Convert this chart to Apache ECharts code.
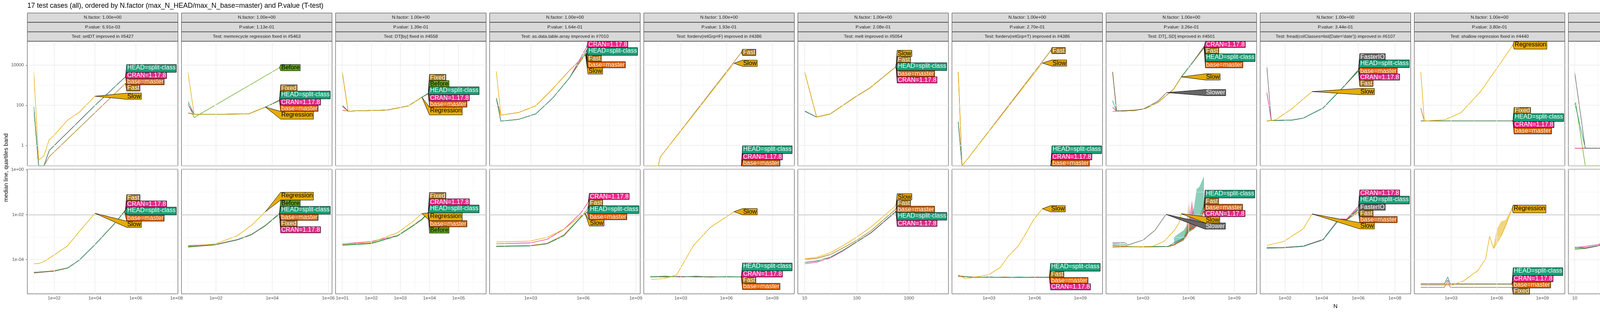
<!DOCTYPE html>
<html>
<head>
<meta charset="utf-8">
<script src="https://cdn.jsdelivr.net/npm/echarts@6/dist/echarts.min.js"></script>
<style>
  html, body { margin: 0; padding: 0; background: #fff; }
  #chart { width: 6800px; height: 800px; }
</style>
</head>
<body>
<div id="chart"></div>
<script>
// All values are log10: points are [log10(N), log10(median)].
// ZERO marks a median of 0 (log gives -Inf, drawn on the panel edge like ggplot).
const ZERO = -Infinity;

const titleText = '17 test cases (all), ordered by N.factor (max_N_HEAD/max_N_base=master) and P.value (T-test)';
const testNames = [
  'setDT improved in #5427', 'memrecycle regression fixed in #5463', 'DT[by] fixed in #4558',
  'as.data.table.array improved in #7010', 'forderv(retGrp=F) improved in #4386', 'melt improved in #5054',
  'forderv(retGrp=T) improved in #4386', 'DT[,.SD] improved in #4501',
  "fread(colClasses=list(Date='date')) improved in #6107", 'shallow regression fixed in #4440',
  'fwrite refactored in #6393', 'fread disk overhead improved in #6925', 'transform improved in #5493',
  "fread(select=list(Date='date')) improved in #6107", 'isoweek improved in #7144',
  "fread(colClasses='Date') improved in #6107", 'DT[by,verbose=TRUE] improved in #6296'
];
const pValues = ['6.91e-03', '1.13e-01', '1.39e-01', '1.64e-01', '1.93e-01', '2.08e-01', '2.70e-01', '3.26e-01',
  '3.44e-01', '3.80e-01', '4.43e-01', '6.96e-01', '7.23e-01', '7.84e-01', '8.06e-01', '9.75e-01', '9.79e-01'];
const nFactors = Array(17).fill('1.00e+00');
const unitNames = ['kilobytes', 'seconds'];

// x axis (log10 N) range and breaks per panel
const xRanges = [[0.686, 8.07], [0.77, 6.13], [0.77, 5.95], [0.66, 9.25], [0.567, 10.46], [0.87, 3.755],
  [0.567, 10.46], [0.58, 10.47], [0.643, 8.87], [0.58, 10.47], [0.862, 4.14], [-0.12, 2.83],
  [0.63, 9.25], [0.63, 8.88], [0.72, 6.91], [0.635, 8.87], [0.73, 6.51]];
const xBreaks = [[2, 4, 6, 8], [2, 4, 6], [1, 2, 3, 4, 5], [3, 6, 9], [3, 6, 9], [1, 2, 3],
  [3, 6, 9], [3, 6, 9], [2, 4, 6, 8], [3, 6, 9], [1, 2, 3, 4], [0, 1, 2],
  [3, 6, 9], [2, 4, 6, 8], [2, 4, 6], [2, 4, 6, 8], [2, 4, 6]];
const xLabels = [['1e+02', '1e+04', '1e+06', '1e+08'], ['1e+02', '1e+04', '1e+06'], ['1e+01', '1e+02', '1e+03', '1e+04', '1e+05'],
  ['1e+03', '1e+06', '1e+09'], ['1e+03', '1e+06', '1e+09'], ['10', '100', '1000'],
  ['1e+03', '1e+06', '1e+09'], ['1e+03', '1e+06', '1e+09'], ['1e+02', '1e+04', '1e+06', '1e+08'],
  ['1e+03', '1e+06', '1e+09'], ['10', '100', '1000', '10000'], ['1', '10', '100'],
  ['1e+03', '1e+06', '1e+09'], ['1e+02', '1e+04', '1e+06', '1e+08'], ['1e+02', '1e+04', '1e+06'],
  ['1e+02', '1e+04', '1e+06', '1e+08'], ['1e+02', '1e+04', '1e+06']];

const kbRange = [-1.01, 5.18];
const kbBreaks = [0, 2, 4];
const kbLabels = ['1', '100', '10000'];
const secRange = [-5.53, 0.02];
const secBreaks = [-4, -2, 0];
const secLabels = ['1e-04', '1e-02', '1e+00'];
const secondsLimit = -2; // 0.01 s

// series per panel, listed in label order (top to bottom)
const kb00 = [
  ['HEAD=split-class', [[1.0, 1.92], [1.24, ZERO], [1.5, ZERO], [1.76, -0.25], [4.0, 1.99], [5.5, 3.42]]],
  ['CRAN=1.17.8', [[1.0, 1.92], [1.24, ZERO], [1.5, ZERO], [1.76, -0.25], [4.0, 1.99], [5.5, 3.42]]],
  ['base=master', [[1.0, 1.92], [1.24, ZERO], [1.5, ZERO], [1.76, -0.25], [4.0, 1.99], [5.5, 3.42]]],
  ['Fast', [[1.0, 1.92], [1.24, ZERO], [1.5, ZERO], [1.76, -0.56], [4.0, 1.63], [5.5, 3.09]]],
  ['Slow', [[1.0, 3.68], [1.24, -0.73], [1.5, -0.52], [1.75, 0.27], [2.0, 0.51], [2.66, 1.26], [3.24, 1.66], [4.0, 2.45]]]
];
const sec00 = [
  ['Fast', [[1.0, -4.59], [2.0, -4.52], [2.66, -4.38], [3.23, -4.03], [4.0, -3.34], [5.0, -2.36], [5.5, -1.78]]],
  ['CRAN=1.17.8', [[1.0, -4.6], [2.0, -4.52], [2.66, -4.38], [3.23, -4.03], [4.0, -3.34], [5.0, -2.36], [5.5, -1.8]]],
  ['HEAD=split-class', [[1.0, -4.57], [2.0, -4.52], [2.66, -4.38], [3.23, -4.03], [4.0, -3.34], [5.0, -2.36], [5.5, -1.82]]],
  ['base=master', [[1.0, -4.58], [2.0, -4.5], [2.66, -4.37], [3.23, -4.03], [4.0, -3.34], [5.0, -2.37], [5.45, -1.86]]],
  ['Slow', [[1.0, -4.19], [1.24, -4.18], [1.5, -4.09], [2.0, -3.8], [2.66, -3.39], [3.23, -2.76], [4.0, -1.94]]]
];

const kb01 = [
  ['Before', [[1.0, 2.1], [1.22, 1.39], [4.26, 3.87]]],
  ['Fixed', [[1.0, 1.62], [1.22, 1.55], [2.0, 1.55], [3.16, 1.57], [3.76, 1.91], [4.26, 2.26]]],
  ['HEAD=split-class', [[1.0, 2.2], [1.22, 1.55], [2.0, 1.55], [3.16, 1.57], [3.76, 1.91], [4.26, 2.24]]],
  ['CRAN=1.17.8', [[1.0, 2.03], [1.22, 1.55], [2.0, 1.55], [3.16, 1.57], [3.76, 1.91], [4.26, 2.24]]],
  ['base=master', [[1.0, 1.62], [1.22, 1.55], [2.0, 1.55], [3.16, 1.57], [3.76, 1.91], [4.26, 2.23]]],
  ['Regression', [[1.0, 3.66], [1.22, 1.55], [2.0, 1.55], [3.16, 1.57], [3.76, 1.91]]]
];
const sec01 = [
  ['Regression', [[1.0, -3.4], [1.96, -3.31], [2.76, -2.94], [3.26, -2.48], [3.76, -1.87]]],
  ['Before', [[1.0, -3.44], [1.96, -3.34], [2.76, -3.12], [3.26, -2.89], [3.76, -2.48], [4.26, -1.94]]],
  ['HEAD=split-class', [[1.0, -3.42], [1.96, -3.34], [2.76, -3.12], [3.26, -2.89], [3.76, -2.48], [4.26, -1.95]]],
  ['base=master', [[1.0, -3.43], [1.96, -3.35], [2.76, -3.13], [3.26, -2.9], [3.76, -2.49], [4.26, -1.96]]],
  ['Fixed', [[1.0, -3.45], [1.96, -3.35], [2.76, -3.12], [3.26, -2.89], [3.76, -2.5], [4.26, -1.97]]],
  ['CRAN=1.17.8', [[1.0, -3.38], [1.96, -3.33], [2.76, -3.11], [3.26, -2.88], [3.76, -2.48], [4.26, -1.98]]]
];

const kb02 = [
  ['Fixed', [[1.0, 3.66], [1.2, 1.71], [2.54, 1.76], [3.28, 1.97], [3.74, 2.4], [3.96, 2.6]]],
  ['Before', [[1.0, 2.01], [1.2, 1.71], [2.54, 1.76], [3.28, 1.97], [3.74, 2.4], [3.96, 2.59]]],
  ['HEAD=split-class', [[1.0, 2.01], [1.2, 1.71], [2.54, 1.76], [3.28, 1.97], [3.74, 2.4], [3.96, 2.58]]],
  ['CRAN=1.17.8', [[1.0, 1.95], [1.2, 1.71], [2.54, 1.76], [3.28, 1.97], [3.74, 2.4], [3.96, 2.58]]],
  ['base=master', [[1.0, 1.75], [1.2, 1.71], [2.54, 1.76], [3.28, 1.97], [3.74, 2.4], [3.96, 2.57]]],
  ['Regression', [[1.0, 3.66], [1.2, 1.71], [2.54, 1.76], [3.28, 1.97], [3.74, 2.4]]]
];
const sec02 = [
  ['Fixed', [[1.0, -3.34], [1.98, -3.28], [2.91, -2.93], [3.44, -2.48], [3.74, -2.2], [3.96, -1.89]]],
  ['CRAN=1.17.8', [[1.0, -3.3], [1.98, -3.2], [2.91, -2.93], [3.44, -2.48], [3.74, -2.2], [3.96, -1.9]]],
  ['HEAD=split-class', [[1.0, -3.36], [1.98, -3.28], [2.91, -2.94], [3.44, -2.49], [3.74, -2.21], [3.96, -1.91]]],
  ['Regression', [[1.0, -3.3], [1.98, -3.25], [2.91, -2.8], [3.44, -2.3], [3.74, -1.95]]],
  ['base=master', [[1.0, -3.35], [1.98, -3.29], [2.91, -2.94], [3.44, -2.49], [3.74, -2.22], [3.96, -1.93]]],
  ['Before', [[1.0, -3.37], [1.98, -3.3], [2.91, -2.95], [3.44, -2.5], [3.74, -2.23], [3.96, -1.95]]]
];

const kb03 = [
  ['CRAN=1.17.8', [[1.04, 2.35], [1.3, 1.21], [2.32, 1.3], [3.29, 1.57], [4.25, 2.35], [5.21, 3.36], [6.2, 4.9]]],
  ['HEAD=split-class', [[1.04, 2.35], [1.3, 1.21], [2.32, 1.3], [3.29, 1.57], [4.25, 2.35], [5.21, 3.36], [6.17, 4.7]]],
  ['Fast', [[1.04, 2.35], [1.3, 1.21], [2.32, 1.3], [3.29, 1.57], [4.25, 2.35], [5.21, 3.36], [6.17, 4.6]]],
  ['base=master', [[1.04, 2.35], [1.3, 1.51], [2.32, 1.64], [3.29, 1.97], [4.25, 2.81], [5.21, 3.73], [6.15, 4.55]]],
  ['Slow', [[1.04, 3.68], [1.3, 1.51], [2.32, 1.64], [3.29, 1.97], [4.25, 2.81], [5.21, 3.73], [6.13, 4.5]]]
];
const sec03 = [
  ['CRAN=1.17.8', [[1.04, -3.3], [2.97, -3.26], [3.94, -3.1], [4.9, -2.65], [5.87, -1.92], [6.28, -1.45]]],
  ['Fast', [[1.04, -3.42], [2.97, -3.39], [3.94, -3.3], [4.9, -2.94], [5.87, -2.1], [6.25, -1.75]]],
  ['HEAD=split-class', [[1.04, -3.42], [2.97, -3.4], [3.94, -3.3], [4.9, -2.94], [5.87, -2.12], [6.25, -1.85]]],
  ['base=master', [[1.04, -3.4], [2.97, -3.38], [3.94, -3.28], [4.9, -2.9], [5.87, -2.1], [6.22, -1.9]]],
  ['Slow', [[1.04, -3.22], [2.97, -3.18], [3.94, -3.01], [4.9, -2.65], [5.87, -2.05], [6.1, -1.95]]]
];

const kb04 = [
  ['Fast', [[1.0, ZERO], [1.53, ZERO], [1.65, -0.58], [6.98, 4.63]]],
  ['Slow', [[1.0, ZERO], [1.53, ZERO], [1.65, -0.58], [6.5, 4.09]]],
  ['HEAD=split-class', [[1.0, ZERO], [6.98, ZERO]]],
  ['CRAN=1.17.8', [[1.0, ZERO], [6.98, ZERO]]],
  ['base=master', [[1.0, ZERO], [6.98, ZERO]]]
];
const sec04 = [
  ['Slow', [[1.05, -4.89], [1.9, -4.85], [2.72, -4.69], [3.83, -3.38], [4.94, -2.57], [6.5, -1.87]]],
  ['HEAD=split-class', [[1.0, -4.77], [2.0, -4.74], [3.0, -4.78], [4.0, -4.74], [5.0, -4.78], [6.0, -4.76], [6.98, -4.77]]],
  ['CRAN=1.17.8', [[1.0, -4.76], [2.0, -4.78], [3.0, -4.75], [4.0, -4.78], [5.0, -4.76], [6.0, -4.78], [6.98, -4.77]]],
  ['Fast', [[1.0, -4.78], [2.0, -4.76], [3.0, -4.77], [4.0, -4.76], [5.0, -4.77], [6.0, -4.77], [6.98, -4.78]]],
  ['base=master', [[1.0, -4.77], [2.0, -4.77], [3.0, -4.76], [4.0, -4.77], [5.0, -4.79], [6.0, -4.76], [6.98, -4.78]]]
];

const kb05 = [
  ['Slow', [[1.0, 3.66], [1.23, 1.41], [1.49, 1.57], [2.0, 2.46], [2.25, 2.86], [2.75, 3.92]]],
  ['Fast', [[1.0, 3.66], [1.23, 1.41], [1.49, 1.57], [2.0, 2.46], [2.25, 2.86], [2.75, 3.92]]],
  ['HEAD=split-class', [[1.0, 1.72], [1.23, 1.41], [1.49, 1.57], [2.0, 2.46], [2.25, 2.86], [2.75, 3.92]]],
  ['base=master', [[1.0, 1.72], [1.23, 1.41], [1.49, 1.57], [2.0, 2.46], [2.25, 2.86], [2.75, 3.92]]],
  ['CRAN=1.17.8', [[1.0, 1.7], [1.23, 1.41], [1.49, 1.57], [2.0, 2.46], [2.25, 2.86], [2.75, 3.92]]]
];
const sec05 = [
  ['Slow', [[1.0, -3.97], [1.23, -3.9], [1.49, -3.7], [1.73, -3.39], [2.0, -3.0], [2.27, -2.55], [2.75, -1.6]]],
  ['Fast', [[1.0, -4.0], [1.23, -3.95], [1.49, -3.78], [1.73, -3.49], [2.0, -3.14], [2.27, -2.72], [2.75, -1.75]]],
  ['base=master', [[1.0, -4.13], [1.23, -4.06], [1.49, -3.9], [1.73, -3.6], [2.0, -3.2], [2.27, -2.8], [2.75, -1.85]]],
  ['HEAD=split-class', [[1.0, -4.13], [1.23, -4.07], [1.49, -3.9], [1.73, -3.6], [2.0, -3.21], [2.27, -2.81], [2.75, -1.85]]],
  ['CRAN=1.17.8', [[1.0, -4.19], [1.23, -4.12], [1.49, -3.93], [1.73, -3.62], [2.0, -3.22], [2.27, -2.82], [2.75, -1.87]]]
];

const kb06 = [
  ['Fast', [[0.98, 3.66], [1.23, ZERO], [1.68, -0.58], [7.06, 4.72]]],
  ['Slow', [[0.98, 3.66], [1.23, ZERO], [1.68, -0.58], [6.51, 4.1]]],
  ['HEAD=split-class', [[0.98, 1.17], [1.23, ZERO], [7.06, ZERO]]],
  ['CRAN=1.17.8', [[0.98, 1.17], [1.23, ZERO], [7.06, ZERO]]],
  ['base=master', [[0.98, 1.17], [1.23, ZERO], [7.06, ZERO]]]
];
const sec06 = [
  ['Slow', [[0.98, -4.68], [1.44, -4.86], [2.97, -4.68], [3.75, -4.35], [4.26, -3.86], [4.91, -3.41], [5.43, -2.83], [5.94, -2.22], [6.51, -1.74]]],
  ['HEAD=split-class', [[0.98, -4.72], [2.0, -4.8], [3.0, -4.78], [4.0, -4.8], [5.0, -4.78], [6.0, -4.8], [6.97, -4.78]]],
  ['Fast', [[0.98, -4.74], [2.0, -4.78], [3.0, -4.8], [4.0, -4.78], [5.0, -4.8], [6.0, -4.78], [6.97, -4.79]]],
  ['base=master', [[0.98, -4.73], [2.0, -4.79], [3.0, -4.79], [4.0, -4.79], [5.0, -4.79], [6.0, -4.79], [6.97, -4.79]]],
  ['CRAN=1.17.8', [[0.98, -4.75], [2.0, -4.8], [3.0, -4.78], [4.0, -4.8], [5.0, -4.8], [6.0, -4.8], [6.97, -4.8]]]
];

const kb07 = [
  ['CRAN=1.17.8', [[1.01, 1.9], [1.27, 1.7], [2.43, 1.73], [3.2, 1.85], [3.98, 2.14], [5.01, 2.79], [5.53, 3.41], [6.3, 4.17], [7.03, 4.95]]],
  ['Fast', [[1.01, 3.66], [1.27, 1.7], [2.43, 1.73], [3.2, 1.85], [3.98, 2.14], [5.01, 2.79], [5.53, 3.41], [6.3, 4.17], [7.03, 4.92]]],
  ['HEAD=split-class', [[1.01, 2.23], [1.27, 1.7], [2.43, 1.73], [3.2, 1.85], [3.98, 2.14], [5.01, 2.79], [5.53, 3.41], [6.3, 4.17], [7.03, 4.9]]],
  ['base=master', [[1.01, 1.7], [1.27, 1.7], [2.43, 1.73], [3.2, 1.85], [3.98, 2.14], [5.01, 2.79], [5.53, 3.41], [6.3, 4.15], [7.02, 4.86]]],
  ['Slow', [[1.01, 3.66], [1.27, 1.7], [2.43, 1.73], [3.2, 1.85], [3.98, 2.14], [5.01, 2.79], [5.53, 3.41]]],
  ['Slower', [[1.01, 3.66], [1.27, 1.72], [2.43, 1.76], [3.0, 1.8], [3.98, 2.2], [4.55, 2.63]]]
];
const sec07 = [
  ['HEAD=split-class', [[1.01, -3.31], [1.78, -3.33], [2.04, -3.42], [3.02, -3.43], [4.65, -3.42], [5.05, -3.25], [5.67, -3.05], [6.01, -2.65], [6.36, -2.5], [6.72, -2.1], [7.01, -1.6]]],
  ['Fast', [[1.01, -3.4], [1.78, -3.41], [2.04, -3.43], [3.02, -3.44], [4.65, -3.42], [5.05, -3.34], [5.67, -3.08], [6.01, -2.7], [6.36, -2.59], [6.72, -2.36], [7.01, -1.7]]],
  ['base=master', [[1.01, -3.45], [1.78, -3.44], [2.04, -3.44], [3.02, -3.44], [4.65, -3.43], [5.05, -3.36], [5.67, -3.1], [6.01, -2.72], [6.36, -2.6], [6.72, -2.38], [7.01, -1.76]]],
  ['CRAN=1.17.8', [[1.01, -3.37], [1.78, -3.4], [2.04, -3.44], [3.02, -3.43], [4.65, -3.41], [5.05, -3.33], [5.67, -3.06], [6.01, -2.68], [6.36, -2.57], [6.72, -2.35], [7.01, -1.85]]],
  ['Slow', [[1.01, -3.46], [3.65, -3.41], [4.39, -3.19], [5.07, -2.7], [5.38, -2.36], [5.52, -1.96]]],
  ['Slower', [[1.01, -3.26], [1.78, -3.25], [2.04, -3.35], [3.02, -3.13], [3.79, -2.7], [4.52, -1.99]]]
];

const kb08 = [
  ['FasterIO', [[1.01, 3.89], [1.25, 1.24], [2.37, 1.26], [3.0, 1.36], [4.08, 1.86], [5.16, 2.88], [6.02, 3.78]]],
  ['HEAD=split-class', [[1.01, 1.22], [1.25, 1.24], [2.37, 1.26], [3.0, 1.36], [4.08, 1.86], [5.16, 2.88], [6.02, 3.75]]],
  ['base=master', [[1.01, 1.22], [1.25, 1.24], [2.37, 1.26], [3.0, 1.36], [4.08, 1.86], [5.16, 2.88], [6.02, 3.73]]],
  ['CRAN=1.17.8', [[1.01, 2.63], [1.25, 1.24], [2.37, 1.26], [3.0, 1.36], [4.08, 1.86], [5.16, 2.88], [6.02, 3.72]]],
  ['Fast', [[1.01, 1.22], [1.25, 1.24], [2.37, 1.26], [3.0, 1.36], [4.08, 1.86], [5.16, 2.88], [6.02, 3.7]]],
  ['Slow', [[1.01, 1.22], [1.25, 1.24], [1.51, 1.28], [1.83, 1.49], [2.37, 1.82], [3.48, 2.68]]]
];
const sec08 = [
  ['CRAN=1.17.8', [[1.01, -3.47], [1.93, -3.46], [3.0, -3.4], [4.08, -3.1], [4.94, -2.2], [5.37, -2.2], [6.02, -1.62]]],
  ['HEAD=split-class', [[1.01, -3.49], [1.93, -3.47], [3.0, -3.41], [4.08, -3.12], [4.94, -2.22], [5.37, -2.22], [6.02, -1.7]]],
  ['FasterIO', [[1.01, -3.5], [1.93, -3.47], [3.0, -3.42], [4.08, -3.12], [4.94, -2.23], [5.37, -2.22], [6.02, -1.75]]],
  ['Fast', [[1.01, -3.49], [1.93, -3.48], [3.0, -3.41], [4.08, -3.13], [4.94, -2.22], [5.37, -2.23], [6.02, -1.8]]],
  ['base=master', [[1.01, -3.48], [1.93, -3.46], [3.0, -3.4], [4.08, -3.11], [4.94, -2.21], [5.37, -2.24], [6.02, -1.88]]],
  ['Slow', [[1.01, -3.37], [1.93, -3.2], [3.0, -2.63], [3.48, -1.97]]]
];

const kb09 = [
  ['Regression', [[1.01, 3.66], [1.24, 1.22], [2.6, 1.28], [3.65, 1.63], [4.94, 2.69], [6.23, 4.08], [7.06, 5.0]]],
  ['Fixed', [[1.01, 1.86], [1.24, 1.22], [7.06, 1.22]]],
  ['HEAD=split-class', [[1.01, 1.22], [1.24, 1.22], [7.06, 1.22]]],
  ['CRAN=1.17.8', [[1.01, 1.22], [1.24, 1.22], [7.06, 1.22]]],
  ['base=master', [[1.01, 1.22], [1.24, 1.22], [7.06, 1.22]]]
];
const sec09 = [
  ['Regression', [[1.01, -5.15], [3.03, -5.15], [3.83, -4.95], [4.76, -4.49], [5.27, -3.97], [5.53, -2.96], [5.79, -3.51], [6.3, -2.93], [6.58, -2.5], [6.94, -1.84], [7.0, -1.75]]],
  ['HEAD=split-class', [[1.01, -5.09], [2.55, -5.09], [2.78, -4.78], [2.95, -5.09], [7.0, -5.09]]],
  ['CRAN=1.17.8', [[1.01, -5.08], [2.55, -5.08], [2.78, -4.92], [2.95, -5.08], [7.0, -5.09]]],
  ['base=master', [[1.01, -5.1], [7.0, -5.1]]],
  ['Fixed', [[1.01, -5.24], [2.55, -5.24], [2.78, -4.98], [2.95, -5.24], [7.0, -5.24]]]
];

const kb10 = [
  ['PR', [[1.0, 3.63], [1.23, -0.14], [3.01, -0.1]]],
  ['CRAN=1.17.8', [[1.0, -0.14], [1.23, -0.14], [3.01, -0.12]]],
  ['HEAD=split-class', [[1.0, 2.14], [1.23, -0.14], [3.01, -0.14]]],
  ['base=master', [[1.0, -0.14], [1.23, -0.14], [3.01, -0.16]]],
  ['Before', [[1.02, 2.14], [1.23, ZERO], [3.01, ZERO]]]
];
const sec10 = [
  ['PR', [[1.0, -3.45], [1.23, -3.48], [1.51, -3.38], [2.0, -2.95], [2.5, -2.4], [3.01, -1.74]]],
  ['HEAD=split-class', [[1.0, -3.53], [1.23, -3.5], [1.51, -3.39], [2.0, -2.96], [2.5, -2.41], [3.01, -1.79]]],
  ['base=master', [[1.0, -3.54], [1.23, -3.51], [1.51, -3.4], [2.0, -2.97], [2.5, -2.42], [3.01, -1.82]]],
  ['CRAN=1.17.8', [[1.0, -3.47], [1.23, -3.42], [1.51, -3.33], [2.0, -2.93], [2.5, -2.4], [3.01, -1.84]]],
  ['Before', [[1.0, -3.52], [1.23, -3.5], [1.51, -3.39], [2.0, -2.96], [2.5, -2.42], [3.01, -1.86]]]
];

const kb11 = [
  ['HEAD=split-class', [[0.0, 1.26], [0.31, 1.57], [1.5, 2.77], [1.81, 3.13]]],
  ['Fast', [[0.0, 3.66], [0.31, 1.57], [1.5, 2.77], [1.81, 3.11]]],
  ['base=master', [[0.0, 1.26], [0.31, 1.57], [1.5, 2.77], [1.81, 3.1]]],
  ['Slow', [[0.0, 3.66], [0.31, 1.57], [1.5, 2.77]]],
  ['CRAN=1.17.8', [[0.0, 1.26], [0.31, 1.57], [1.5, 2.76]]]
];
const sec11 = [
  ['base=master', [[0.0, -3.43], [1.0, -2.71], [1.5, -1.97], [1.81, -1.6]]],
  ['HEAD=split-class', [[0.0, -3.43], [1.0, -2.71], [1.5, -1.97], [1.81, -1.65]]],
  ['Fast', [[0.0, -3.42], [1.0, -2.71], [1.5, -1.97], [1.81, -1.7]]],
  ['CRAN=1.17.8', [[0.0, -3.44], [1.0, -2.72], [1.5, -1.97]]],
  ['Slow', [[0.0, -3.42], [1.0, -2.71], [1.5, -1.99]]]
];

const kb12 = [
  ['Fast', [[1.02, 1.31], [1.24, 1.24], [2.25, 1.24], [3.16, 1.63], [4.06, 2.28], [5.19, 3.62], [6.27, 4.9]]],
  ['HEAD=split-class', [[1.02, 1.31], [1.24, 1.24], [2.25, 1.24], [3.16, 1.63], [4.06, 2.28], [5.19, 3.62], [6.27, 4.85]]],
  ['CRAN=1.17.8', [[1.02, 1.28], [1.24, 1.24], [2.25, 1.24], [3.16, 1.63], [4.06, 2.28], [5.19, 3.62], [6.27, 4.82]]],
  ['base=master', [[1.02, 1.26], [1.24, 1.24], [2.25, 1.24], [3.16, 1.63], [4.06, 2.28], [5.19, 3.62], [6.27, 4.8]]],
  ['Slow', [[1.02, 3.66], [1.24, 1.24], [2.25, 1.4], [3.16, 1.86], [4.06, 2.44]]]
];
const sec12 = [
  ['Slow', [[1.02, -3.58], [1.8, -3.49], [2.7, -2.88], [3.37, -2.3], [4.0, -1.82]]],
  ['base=master', [[1.02, -4.42], [2.25, -4.42], [2.93, -4.33], [3.84, -3.9], [4.52, -3.3], [5.19, -2.57], [6.27, -1.8]]],
  ['HEAD=split-class', [[1.02, -4.25], [2.25, -4.27], [2.93, -4.18], [3.84, -3.86], [4.52, -3.28], [5.19, -2.55], [6.27, -1.84]]],
  ['Fast', [[1.02, -4.42], [2.25, -4.41], [2.93, -4.33], [3.84, -3.9], [4.52, -3.31], [5.19, -2.58], [6.27, -1.86]]],
  ['CRAN=1.17.8', [[1.02, -4.43], [2.25, -4.43], [2.93, -4.34], [3.84, -3.91], [4.52, -3.3], [5.19, -2.57], [6.27, -1.88]]]
];

const kb13 = [
  ['base=master', [[1.01, 1.22], [2.37, 1.26], [3.23, 1.42], [4.31, 2.05], [5.39, 2.97], [6.04, 3.72]]],
  ['HEAD=split-class', [[1.01, 1.22], [2.37, 1.26], [3.23, 1.42], [4.31, 2.05], [5.39, 2.97], [6.04, 3.7]]],
  ['FasterIO', [[1.01, 1.22], [2.37, 1.26], [3.23, 1.42], [4.31, 2.05], [5.39, 2.97], [6.04, 3.66]]],
  ['CRAN=1.17.8', [[1.01, 1.22], [2.37, 1.26], [3.23, 1.42], [4.31, 2.05], [5.39, 2.97], [6.04, 3.64]]],
  ['Fast', [[1.01, 1.22], [2.37, 1.26], [3.23, 1.42], [4.31, 2.05], [5.39, 2.97], [6.04, 3.62]]],
  ['Slow', [[1.01, 1.22], [1.49, 1.31], [1.92, 1.51], [2.58, 1.86], [3.49, 2.68]]]
];
const sec13 = [
  ['FasterIO', [[1.01, -3.52], [1.92, -3.45], [3.23, -3.39], [4.09, -2.96], [4.74, -2.46], [5.17, -2.22], [5.5, -2.26], [6.04, -1.65]]],
  ['CRAN=1.17.8', [[1.01, -3.5], [1.92, -3.44], [3.23, -3.38], [4.09, -2.95], [4.74, -2.45], [5.17, -2.21], [5.5, -2.25], [6.04, -1.72]]],
  ['Fast', [[1.01, -3.52], [1.92, -3.46], [3.23, -3.4], [4.09, -2.97], [4.74, -2.47], [5.17, -2.23], [5.5, -2.27], [6.04, -1.78]]],
  ['base=master', [[1.01, -3.51], [1.92, -3.45], [3.23, -3.39], [4.09, -2.96], [4.74, -2.46], [5.17, -2.22], [5.5, -2.26], [6.04, -1.85]]],
  ['HEAD=split-class', [[1.01, -3.53], [1.92, -3.46], [3.23, -3.4], [4.09, -2.97], [4.74, -2.47], [5.17, -2.23], [5.5, -2.27], [6.04, -1.95]]],
  ['Slow', [[1.01, -3.41], [1.92, -3.16], [2.58, -2.67], [3.49, -1.97]]]
];

const kb14 = [
  ['Fast', [[0.98, 0.87], [1.22, 0.04], [1.48, 0.25], [1.74, 0.92], [2.0, 1.13], [3.5, 2.6], [4.76, 3.9]]],
  ['HEAD=split-class', [[0.98, 0.87], [1.22, 0.04], [1.48, 0.25], [1.74, 0.92], [2.0, 1.13], [3.5, 2.6], [4.76, 3.87]]],
  ['base=master', [[0.98, 0.87], [1.22, 0.04], [1.48, 0.25], [1.74, 0.92], [2.0, 1.13], [3.5, 2.6], [4.76, 3.85]]],
  ['Slow', [[0.98, 3.63], [1.22, 0.39], [1.48, 0.62], [1.74, 1.31], [2.0, 1.49], [3.5, 2.95]]],
  ['CRAN=1.17.8', [[0.98, 1.42], [1.22, 0.39], [1.48, 0.62], [1.74, 1.31], [2.0, 1.49], [3.5, 2.93]]]
];
const sec14 = [
  ['HEAD=split-class', [[0.98, -4.48], [1.48, -4.31], [2.0, -3.98], [2.53, -3.53], [4.0, -2.38], [4.76, -1.66]]],
  ['Fast', [[0.98, -4.47], [1.48, -4.3], [2.0, -3.97], [2.53, -3.52], [4.0, -2.38], [4.76, -1.72]]],
  ['base=master', [[0.98, -4.46], [1.48, -4.3], [2.0, -3.97], [2.53, -3.53], [4.0, -2.39], [4.76, -1.76]]],
  ['Slow', [[0.98, -3.86], [1.74, -3.49], [2.53, -2.71], [3.5, -1.93]]],
  ['CRAN=1.17.8', [[0.98, -3.87], [1.74, -3.5], [2.53, -2.72], [3.5, -1.95]]]
];

const kb15 = [
  ['HEAD=split-class', [[1.0, 1.22], [2.36, 1.24], [3.02, 1.38], [3.68, 1.68], [4.34, 2.16], [5.17, 2.79], [5.99, 3.76]]],
  ['FasterIO', [[1.0, 1.22], [2.36, 1.24], [3.02, 1.38], [3.68, 1.68], [4.34, 2.16], [5.17, 2.79], [5.99, 3.72]]],
  ['CRAN=1.17.8', [[1.0, 1.22], [2.36, 1.24], [3.02, 1.38], [3.68, 1.68], [4.34, 2.16], [5.17, 2.79], [5.99, 3.69]]],
  ['base=master', [[1.0, 1.22], [2.36, 1.24], [3.02, 1.38], [3.68, 1.68], [4.34, 2.16], [5.17, 2.79], [5.99, 3.67]]],
  ['Fast', [[1.0, 1.22], [2.36, 1.24], [3.02, 1.38], [3.68, 1.68], [4.34, 2.16], [5.17, 2.79], [5.99, 3.65]]],
  ['Slow', [[1.0, 1.22], [1.54, 1.29], [1.87, 1.48], [2.36, 1.77], [2.86, 2.19], [3.49, 2.68]]]
];
const sec15 = [
  ['base=master', [[1.0, -3.53], [1.71, -3.45], [2.69, -3.44], [3.5, -3.21], [4.17, -2.88], [4.83, -2.42], [5.25, -2.22], [5.5, -2.24], [5.99, -1.62]]],
  ['CRAN=1.17.8', [[1.0, -3.51], [1.71, -3.38], [2.69, -3.43], [3.5, -3.2], [4.17, -2.87], [4.83, -2.41], [5.25, -2.21], [5.5, -2.23], [5.99, -1.7]]],
  ['FasterIO', [[1.0, -3.53], [1.71, -3.45], [2.69, -3.44], [3.5, -3.21], [4.17, -2.88], [4.83, -2.42], [5.25, -2.22], [5.5, -2.24], [5.99, -1.76]]],
  ['Fast', [[1.0, -3.52], [1.71, -3.44], [2.69, -3.43], [3.5, -3.2], [4.17, -2.87], [4.83, -2.42], [5.25, -2.22], [5.5, -2.25], [5.99, -1.82]]],
  ['HEAD=split-class', [[1.0, -3.54], [1.71, -3.46], [2.69, -3.45], [3.5, -3.22], [4.17, -2.89], [4.83, -2.43], [5.25, -2.23], [5.5, -2.25], [5.99, -1.95]]],
  ['Slow', [[1.0, -3.38], [2.03, -3.12], [2.69, -2.67], [3.49, -1.97]]]
];

const kb16 = [
  ['Fast', [[0.98, 1.74], [1.21, 1.52], [2.74, 1.68], [3.15, 1.82], [3.49, 2.05], [3.9, 2.32], [4.27, 2.68]]],
  ['HEAD=split-class', [[0.98, 1.74], [1.21, 1.52], [2.74, 1.68], [3.15, 1.82], [3.49, 2.05], [3.9, 2.32], [4.27, 2.68]]],
  ['base=master', [[0.98, 1.74], [1.21, 1.52], [2.74, 1.68], [3.15, 1.82], [3.49, 2.05], [3.9, 2.32], [4.27, 2.68]]],
  ['CRAN=1.17.8', [[0.98, 1.74], [1.21, 1.52], [2.74, 1.68], [3.15, 1.82], [3.49, 2.05], [3.9, 2.32], [4.27, 2.68]]],
  ['Slow', [[0.98, 3.63], [1.21, 1.52], [2.74, 1.68], [3.15, 1.82], [3.49, 2.05]]]
];
const sec16 = [
  ['Fast', [[0.98, -3.0], [2.17, -2.96], [2.98, -2.79], [3.44, -2.59], [3.79, -2.28], [4.0, -2.13], [4.27, -1.82]]],
  ['CRAN=1.17.8', [[0.98, -3.04], [2.17, -2.97], [2.98, -2.8], [3.44, -2.6], [3.79, -2.29], [4.0, -2.14], [4.27, -1.86]]],
  ['base=master', [[0.98, -3.0], [2.17, -2.95], [2.98, -2.78], [3.44, -2.57], [3.79, -2.27], [4.0, -2.12], [4.27, -1.9]]],
  ['HEAD=split-class', [[0.98, -3.01], [2.17, -2.96], [2.98, -2.79], [3.44, -2.59], [3.79, -2.28], [4.0, -2.13], [4.27, -1.94]]],
  ['Slow', [[0.98, -2.92], [1.96, -2.83], [2.74, -2.46], [3.49, -1.97]]]
];

const kbPanels = [kb00, kb01, kb02, kb03, kb04, kb05, kb06, kb07, kb08, kb09, kb10, kb11, kb12, kb13, kb14, kb15, kb16];
const secPanels = [sec00, sec01, sec02, sec03, sec04, sec05, sec06, sec07, sec08, sec09, sec10, sec11, sec12, sec13, sec14, sec15, sec16];

// quartile bands (seconds) where they are wide: [log10 N, log10 q25, log10 q75]
const band07Head = [[5.05, -3.35, -3.0], [5.67, -3.17, -2.7], [6.01, -2.79, -2.36], [6.36, -2.65, -1.67], [6.53, -2.5, -0.86], [6.72, -2.36, -0.75], [7.01, -1.84, -0.29]];
const band07Cran = [[5.8, -3.1, -3.0], [6.01, -2.75, -2.3], [6.22, -2.65, -1.37], [6.4, -2.55, -2.2], [6.6, -2.4, -2.3]];
const band07Fast = [[5.7, -3.1, -3.0], [5.85, -2.9, -2.6], [6.01, -2.8, -1.37], [6.15, -2.7, -2.3], [6.3, -2.6, -2.5]];
const band09Regression = [[5.78, -3.51, -3.39], [6.01, -3.2, -2.64], [6.29, -2.93, -2.3], [6.58, -2.53, -2.24], [6.93, -1.89, -1.8], [7.0, -1.75, -1.75]];
const secBands = [[7, 'HEAD=split-class', band07Head], [7, 'CRAN=1.17.8', band07Cran], [7, 'Fast', band07Fast], [9, 'Regression', band09Regression]];

// ---- styling ----
const FONT = '"Liberation Sans", Arial, Helvetica, sans-serif';
const COLORS = {
  'HEAD=split-class': '#1B9E77', 'base=master': '#D95F02', 'CRAN=1.17.8': '#E7298A',
  'Before': '#66A61E', 'Slow': '#E6AB02', 'Regression': '#E6AB02',
  'Fast': '#A6761D', 'Fixed': '#A6761D', 'PR': '#666666', 'Slower': '#666666', 'FasterIO': '#666666'
};
const DARK_TEXT = ['Slow', 'Regression', 'Before'];
const DRAW_ORDER = ['base=master', 'Before', 'CRAN=1.17.8', 'Fast', 'FasterIO', 'Fixed', 'HEAD=split-class', 'PR', 'Regression', 'Slow', 'Slower'];

const LEFT0 = 70, STEP = 394.5, PW = 385.5;
const ROWS = [
  { top: 106, h: 319, range: kbRange, breaks: kbBreaks, labels: kbLabels, panels: kbPanels, limit: null },
  { top: 434, h: 319.5, range: secRange, breaks: secBreaks, labels: secLabels, panels: secPanels, limit: secondsLimit }
];

function minorsOf(breaks, lo, hi) {
  const s = breaks.length > 1 ? breaks[1] - breaks[0] : 1;
  const out = breaks.map(b => b - s / 2).concat([breaks[breaks.length - 1] + s / 2]);
  return out.filter(v => v > lo && v < hi);
}
function gridLine(v, axis, color, width) {
  return { [axis]: v, lineStyle: { color, width, type: 'solid' } };
}

const chart = echarts.init(document.getElementById('chart'), null, { renderer: 'canvas' });
const option = { animation: false, textStyle: { fontFamily: FONT }, grid: [], xAxis: [], yAxis: [], series: [] };

ROWS.forEach((row, r) => {
  for (let c = 0; c < 17; c++) {
    const g = r * 17 + c;
    const [xmin, xmax] = xRanges[c];
    option.grid.push({ left: LEFT0 + c * STEP, top: row.top, width: PW, height: row.h, show: true,
      borderColor: '#333333', borderWidth: 1, backgroundColor: '#ffffff' });
    const xb = xBreaks[c], xl = xLabels[c];
    option.xAxis.push({ gridIndex: g, type: 'value', min: xmin, max: xmax,
      axisLine: { show: false }, splitLine: { show: false },
      axisTick: { show: r === 1, customValues: xb, length: 3.7, lineStyle: { color: '#333333', width: 1 } },
      axisLabel: { show: r === 1, customValues: xb, margin: 5, color: '#4D4D4D', fontSize: 11.7, fontFamily: FONT,
        formatter: v => xl[xb.indexOf(v)] }
    });
    option.yAxis.push({ gridIndex: g, type: 'value', min: row.range[0], max: row.range[1],
      axisLine: { show: false }, splitLine: { show: false },
      axisTick: { show: c === 0, customValues: row.breaks, length: 3.7, lineStyle: { color: '#333333', width: 1 } },
      axisLabel: { show: c === 0, customValues: row.breaks, margin: 9, color: '#4D4D4D', fontSize: 11.7, fontFamily: FONT,
        formatter: v => row.labels[row.breaks.indexOf(v)] }
    });

    // panel grid lines (and the 0.01 s limit line)
    const ml = [];
    minorsOf(xb, xmin, xmax).forEach(v => ml.push(gridLine(v, 'xAxis', '#F0F0F0', 0.8)));
    minorsOf(row.breaks, row.range[0], row.range[1]).forEach(v => ml.push(gridLine(v, 'yAxis', '#F0F0F0', 0.8)));
    xb.filter(v => v > xmin && v < xmax).forEach(v => ml.push(gridLine(v, 'xAxis', '#EBEBEB', 1.5)));
    row.breaks.filter(v => v > row.range[0] && v < row.range[1]).forEach(v => ml.push(gridLine(v, 'yAxis', '#EBEBEB', 1.5)));
    if (row.limit !== null) ml.push(gridLine(row.limit, 'yAxis', '#BEBEBE', 1.5));
    option.series.push({ type: 'line', xAxisIndex: g, yAxisIndex: g, data: [[xmin, row.range[0]]], symbol: 'none',
      lineStyle: { width: 0 }, silent: true, z: 1,
      markLine: { silent: true, symbol: ['none', 'none'], label: { show: false }, animation: false,
        lineStyle: { type: 'solid' }, data: ml } });

    // quartile bands
    if (r === 1) {
      secBands.filter(b => b[0] === c).forEach(([, name, band]) => {
        option.series.push({ type: 'custom', xAxisIndex: g, yAxisIndex: g, silent: true, z: 2, clip: true,
          data: [[band[0][0], band[0][1]]],
          renderItem: (params, api) => {
            const up = band.map(([x, , hi]) => api.coord([x, hi]));
            const lo = band.slice().reverse().map(([x, low]) => api.coord([x, low]));
            return { type: 'polygon', shape: { points: up.concat(lo) }, style: { fill: COLORS[name], opacity: 0.5 } };
          } });
      });
    }

    // median lines, drawn in factor order like ggplot
    const list = row.panels[c].slice().sort((a, b) => DRAW_ORDER.indexOf(a[0]) - DRAW_ORDER.indexOf(b[0]));
    list.forEach(([name, pts]) => {
      option.series.push({ type: 'line', name, xAxisIndex: g, yAxisIndex: g, silent: true, z: 3, clip: true,
        showSymbol: false, symbol: 'none',
        lineStyle: { color: COLORS[name], width: 1.4 },
        data: pts.map(([x, y]) => [x, Number.isFinite(y) ? y : row.range[0]]) });
    });
  }
});

chart.setOption(option);

// ---- direct labels (last.polygons style, spread with isotonic regression) ----
const measureCtx = document.createElement('canvas').getContext('2d');
const LABEL_FONT = '16px ' + FONT;
measureCtx.font = LABEL_FONT;

function spread(centers, heights) {
  const n = centers.length, off = [0];
  for (let i = 1; i < n; i++) off[i] = off[i - 1] + (heights[i - 1] + heights[i]) / 2;
  const blocks = [];
  centers.forEach((cy, i) => {
    blocks.push({ sum: cy - off[i], cnt: 1 });
    while (blocks.length > 1) {
      const a = blocks[blocks.length - 2], b = blocks[blocks.length - 1];
      if (a.sum / a.cnt <= b.sum / b.cnt) break;
      a.sum += b.sum; a.cnt += b.cnt; blocks.pop();
    }
  });
  const q = [];
  blocks.forEach(b => { for (let k = 0; k < b.cnt; k++) q.push(b.sum / b.cnt); });
  return q.map((v, i) => v + off[i]);
}

const graphics = [];
ROWS.forEach((row, r) => {
  for (let c = 0; c < 17; c++) {
    const g = r * 17 + c;
    const list = row.panels[c];
    const ends = list.map(([name, pts]) => {
      const [x, y] = pts[pts.length - 1];
      return chart.convertToPixel({ gridIndex: g }, [x, Number.isFinite(y) ? y : row.range[0]]);
    });
    const boxLeft = Math.max(...ends.map(p => p[0])) + 3;
    const hs = list.map(([name]) => (/[gjpqy]/.test(name) ? 20 : 16));
    const p = spread(ends.map(e => e[1]), hs);
    const n = p.length;
    const bottomBound = row.top + row.h + 1;
    if (p[n - 1] + hs[n - 1] / 2 > bottomBound) {
      p[n - 1] = bottomBound - hs[n - 1] / 2;
      for (let i = n - 2; i >= 0; i--) p[i] = Math.min(p[i], p[i + 1] - (hs[i] + hs[i + 1]) / 2);
    }
    if (p[0] - hs[0] / 2 < row.top) {
      p[0] = row.top + hs[0] / 2;
      for (let i = 1; i < n; i++) p[i] = Math.max(p[i], p[i - 1] + (hs[i - 1] + hs[i]) / 2);
    }
    list.forEach(([name], i) => {
      const top = p[i] - hs[i] / 2, bot = p[i] + hs[i] / 2;
      const right = boxLeft + measureCtx.measureText(name).width + 3;
      graphics.push({ type: 'polygon', z: 100, silent: true,
        shape: { points: [[ends[i][0], ends[i][1]], [boxLeft, top], [right, top], [right, bot], [boxLeft, bot]] },
        style: { fill: COLORS[name], stroke: '#000000', lineWidth: 1 } });
      graphics.push({ type: 'text', z: 101, silent: true, x: boxLeft + 1.5, y: top + 8.5,
        style: { text: name, fill: DARK_TEXT.includes(name) ? '#000000' : '#ffffff', font: LABEL_FONT,
          textAlign: 'left', textVerticalAlign: 'middle', align: 'left', verticalAlign: 'middle' } });
    });
  }
});

// ---- facet strips, titles ----
const STRIP_TOPS = [33.3, 57.6, 81.9], STRIP_H = 23.6;
for (let c = 0; c < 17; c++) {
  const x0 = LEFT0 + c * STEP;
  const texts = ['N.factor: ' + nFactors[c], 'P.value: ' + pValues[c], 'Test: ' + testNames[c]];
  texts.forEach((t, k) => {
    graphics.push({ type: 'rect', z: 50, silent: true, shape: { x: x0, y: STRIP_TOPS[k], width: PW, height: STRIP_H },
      style: { fill: '#D9D9D9', stroke: '#333333', lineWidth: 1 } });
    graphics.push({ type: 'text', z: 51, silent: true, x: x0 + PW / 2, y: STRIP_TOPS[k] + STRIP_H / 2,
      style: { text: t, fill: '#1A1A1A', font: '11.7px ' + FONT, textAlign: 'center', textVerticalAlign: 'middle', align: 'center', verticalAlign: 'middle' } });
  });
}
const stripX = LEFT0 + 16 * STEP + PW + 1;
ROWS.forEach((row, r) => {
  graphics.push({ type: 'rect', z: 50, silent: true, shape: { x: stripX, y: row.top, width: 23.5, height: row.h },
    style: { fill: '#D9D9D9', stroke: '#333333', lineWidth: 1 } });
  graphics.push({ type: 'text', z: 51, silent: true, x: stripX + 11.75, y: row.top + row.h / 2, rotation: -Math.PI / 2,
    style: { text: 'unit: ' + unitNames[r], fill: '#1A1A1A', font: '11.7px ' + FONT, textAlign: 'center', textVerticalAlign: 'middle', align: 'center', verticalAlign: 'middle' } });
});
graphics.push({ type: 'text', silent: true, x: LEFT0, y: 15.5,
  style: { text: titleText, fill: '#000000', font: '17.6px ' + FONT, textAlign: 'left', textVerticalAlign: 'middle', align: 'left', verticalAlign: 'middle' } });
graphics.push({ type: 'text', silent: true, x: (LEFT0 + stripX - 1) / 2, y: 786,
  style: { text: 'N', fill: '#000000', font: '14.7px ' + FONT, textAlign: 'center', textVerticalAlign: 'middle', align: 'center', verticalAlign: 'middle' } });
graphics.push({ type: 'text', silent: true, x: 16, y: (106 + 753.5) / 2, rotation: Math.PI / 2,
  style: { text: 'median line, quartiles band', fill: '#000000', font: '14.7px ' + FONT, textAlign: 'center', textVerticalAlign: 'middle', align: 'center', verticalAlign: 'middle' } });

chart.setOption({ graphic: { elements: graphics } });
</script>
</body>
</html>
